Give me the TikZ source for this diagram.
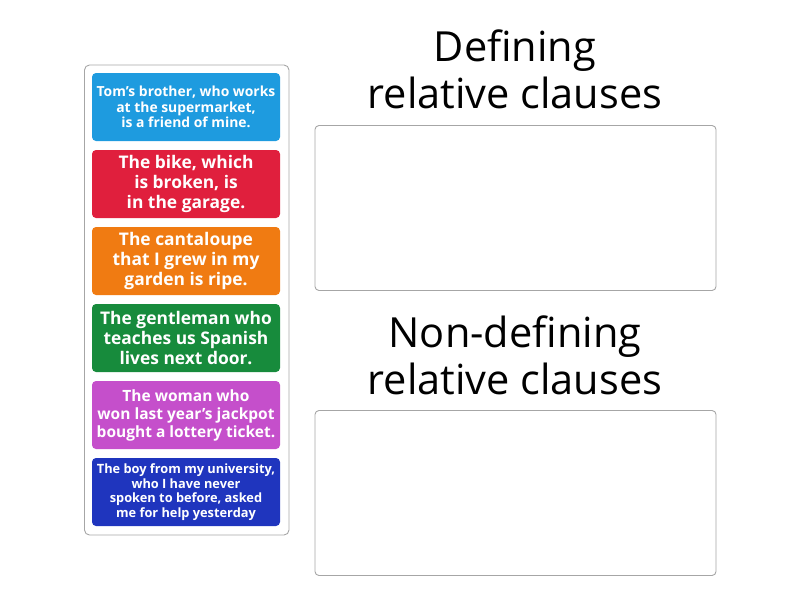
\documentclass[tikz,border=0pt]{standalone}
\usepackage{fontspec}
\setmainfont{Open Sans}
\definecolor{cardblue}{HTML}{1E9BDF}
\definecolor{cardred}{HTML}{E01F3D}
\definecolor{cardorange}{HTML}{F07B12}
\definecolor{cardgreen}{HTML}{178B3C}
\definecolor{cardpurple}{HTML}{C54FCB}
\definecolor{cardnavy}{HTML}{1F35BE}
\definecolor{framegray}{HTML}{A6A6A6}
\tikzset{
  card/.style={rectangle, rounded corners=4pt, minimum width=188pt, minimum height=68pt,
    inner sep=0pt, text=white, align=center, font=\bfseries\fontsize{17.4}{20}\selectfont},
  dropbox/.style={draw=framegray, line width=0.9pt, rounded corners=4pt, fill=white,
    minimum width=401pt, minimum height=165pt, inner sep=0pt},
  heading/.style={align=center, inner sep=0pt, font=\fontsize{41.5}{47}\selectfont}
}
\begin{document}
\begin{tikzpicture}[x=1pt, y=-1pt]
        % Page frame
        \useasboundingbox (0,0) rectangle (800,600);

        % Card panel on the left
        \draw[framegray, line width=0.9pt, rounded corners=5pt] (84.5,65) rectangle (289,535);

        % Cards, top to bottom
        \node[card, fill=cardblue, font=\bfseries\fontsize{13.9}{15.5}\selectfont] (tom) at (186,107)
            {Tom's brother, who works\\at the supermarket,\\is a friend of mine.};
        \node[card, fill=cardred] (bike) at (186,184)
            {The bike, which\\is broken, is\\in the garage.};
        \node[card, fill=cardorange] (melon) at (186,261)
            {The cantaloupe\\that I grew in my\\garden is ripe.};
        \node[card, fill=cardgreen] (gent) at (186,338)
            {The gentleman who\\teaches us Spanish\\lives next door.};
        \node[card, fill=cardpurple, font=\bfseries\fontsize{15.5}{18}\selectfont] (woman) at (186,415)
            {The woman who\\won last year's jackpot\\bought a lottery ticket.};
        \node[card, fill=cardnavy, font=\bfseries\fontsize{12.8}{14.5}\selectfont] (boy) at (186,492)
            {The boy from my university,\\who I have never\\spoken to before, asked\\me for help yesterday};

        % Defining group
        \node[heading] (defhead) at (515,69) {Defining\\relative clauses};
        \node[dropbox] (defbox) at (515.5,208) {};

        % Non-defining group
        \node[heading] (nondefhead) at (515,355) {Non-defining\\relative clauses};
        \node[dropbox] (nondefbox) at (515.5,493) {};
\end{tikzpicture}
\end{document}
